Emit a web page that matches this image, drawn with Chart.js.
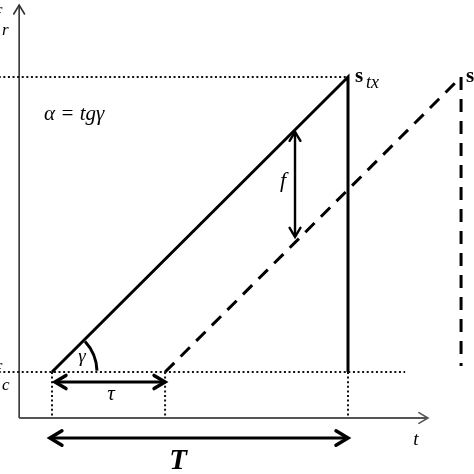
<!DOCTYPE html>
<html>
<head>
<meta charset="utf-8">
<script src="https://cdn.jsdelivr.net/npm/chart.js@4/dist/chart.umd.min.js"></script>
<style>
  html, body { margin: 0; padding: 0; background: #fff; }
  #wrap { width: 474px; height: 474px; }
</style>
</head>
<body>
<div id="wrap"><canvas id="chirp" width="474" height="474"></canvas></div>
<script>
// time in units of the sweep period T, frequency normalised: fc = 0, fr = 1
const txTimes = [0, 1, 1];
const txFreqs = [0, 1, 0];
const rxTimes = [0.382, 1.382, 1.382];
const rxFreqs = [0, 1, 0.02];

const markTimes = [0, 0.382, 1];          // dotted drop lines: start, tau, T
const topLineTimes = [-0.18, 1];           // fr level
const baseLineTimes = [-0.18, 1.193];      // fc level

const axisTime = -0.111;                   // where the frequency axis stands
const axisFreq = -0.156;                   // where the time axis lies
const axisEnds = { t: 1.27, f: 1.244 };

const tauArrow = [0.01, 0.382];  const tauLevel = -0.034;
const periodArrow = [-0.007, 1]; const periodLevel = -0.224;
const beatTime = 0.821; const beatArrow = [0.814, 0.458];

function pts(xs, ys) {
    return xs.map((x, i) => ({ x: x, y: ys[i] }));
}

document.addEventListener('DOMContentLoaded', function() {
    const serif = '"Liberation Serif", "Times New Roman", "DejaVu Serif", serif';

    function line(data, opts) {
        return Object.assign({
            data: data, showLine: true, pointRadius: 0, borderColor: '#000',
            borderWidth: 3, fill: false, tension: 0
        }, opts || {});
    }
    const dotted = { borderWidth: 2, borderDash: [2, 2.6], borderColor: '#111' };

    const datasets = [
        line(pts(topLineTimes, [1, 1]), dotted),
        line(pts(baseLineTimes, [0, 0]), dotted)
    ];
    markTimes.forEach(t => {
        datasets.push(line(pts([t, t], [0, axisFreq]), dotted));
    });
    datasets.push(line(pts([axisTime, axisEnds.t], [axisFreq, axisFreq]), { borderWidth: 2.2, borderColor: '#555' }));
    datasets.push(line(pts([axisTime, axisTime], [axisFreq, axisEnds.f]), { borderWidth: 1.6, borderColor: '#333' }));
    datasets.push(line(pts(txTimes, txFreqs)));
    datasets.push(line(pts(rxTimes, rxFreqs), { borderDash: [13, 9] }));
    datasets.push(line(pts(tauArrow, [tauLevel, tauLevel])));
    datasets.push(line(pts(periodArrow, [periodLevel, periodLevel])));
    datasets.push(line(pts([beatTime, beatTime], beatArrow), { borderWidth: 2.4 }));

    // arrow heads, angle mark and labels
    const annotations = {
        id: 'annotations',
        afterDatasetsDraw(chart) {
            const c = chart.ctx, xs = chart.scales.x, ys = chart.scales.y;
            const px = v => xs.getPixelForValue(v), py = v => ys.getPixelForValue(v);

            function head(x, y, dir, size, width, color) {
                c.save();
                c.strokeStyle = color || '#000';
                c.lineWidth = width;
                c.lineCap = 'round';
                c.lineJoin = 'miter';
                c.translate(x, y);
                c.rotate(dir);
                c.beginPath();
                c.moveTo(-size, -size * 0.6);
                c.lineTo(0, 0);
                c.lineTo(-size, size * 0.6);
                c.stroke();
                c.restore();
            }
            head(px(axisEnds.t), py(axisFreq), 0, 9, 1.6, '#555');
            head(px(axisTime), py(axisEnds.f), -Math.PI / 2, 9, 1.6, '#333');
            head(px(tauArrow[0]), py(tauLevel), Math.PI, 11, 3.5);
            head(px(tauArrow[1]), py(tauLevel), 0, 11, 3.5);
            head(px(periodArrow[0]), py(periodLevel), Math.PI, 12, 3.5);
            head(px(periodArrow[1]), py(periodLevel), 0, 12, 3.5);
            head(px(beatTime), py(beatArrow[0]), -Math.PI / 2, 9, 2.4);
            head(px(beatTime), py(beatArrow[1]), Math.PI / 2, 9, 2.4);

            // gamma angle arc
            c.save();
            c.strokeStyle = '#000';
            c.lineWidth = 3;
            c.beginPath();
            c.arc(px(0), py(0), 45, -Math.PI / 4 + 0.04, -0.03);
            c.stroke();
            c.restore();

            function text(str, x, y, font, align) {
                c.save();
                c.fillStyle = '#000';
                c.font = font;
                c.textAlign = align || 'left';
                c.textBaseline = 'middle';
                c.fillText(str, x, y);
                c.restore();
            }
            text('\u03b1 = tg\u03b3', 44, 114, 'italic 21px ' + serif);
            text('\u03b3', 82, 357, 'italic 19px ' + serif, 'center');
            text('\u03c4', 111, 394, 'italic 21px ' + serif, 'center');
            text('f', 283, 181, 'italic 22px ' + serif, 'center');
            text('t', 416, 440, 'italic 19px ' + serif, 'center');
            text('T', 178, 462, 'bold italic 29px ' + serif, 'center');
            text('s', 355, 77, 'bold 21px ' + serif);
            text('tx', 366, 83, 'italic 18px ' + serif);
            text('s', 466, 77, 'bold 21px ' + serif);
            text('f', -5, 16, 'italic 19px ' + serif);
            text('r', 2, 31, 'italic 17px ' + serif);
            text('f', -5, 372, 'italic 19px ' + serif);
            text('c', 2, 386, 'italic 17px ' + serif);
        }
    };

    new Chart(document.getElementById('chirp').getContext('2d'), {
        type: 'scatter',
        data: { datasets: datasets },
        options: {
            responsive: false,
            animation: false,
            layout: { padding: 0 },
            scales: {
                x: { type: 'linear', display: false, min: -0.1757, max: 1.4257 },
                y: { type: 'linear', display: false, min: -0.3458, max: 1.261 }
            },
            plugins: { legend: { display: false }, tooltip: { enabled: false } }
        },
        plugins: [annotations]
    });
});
</script>
</body>
</html>
